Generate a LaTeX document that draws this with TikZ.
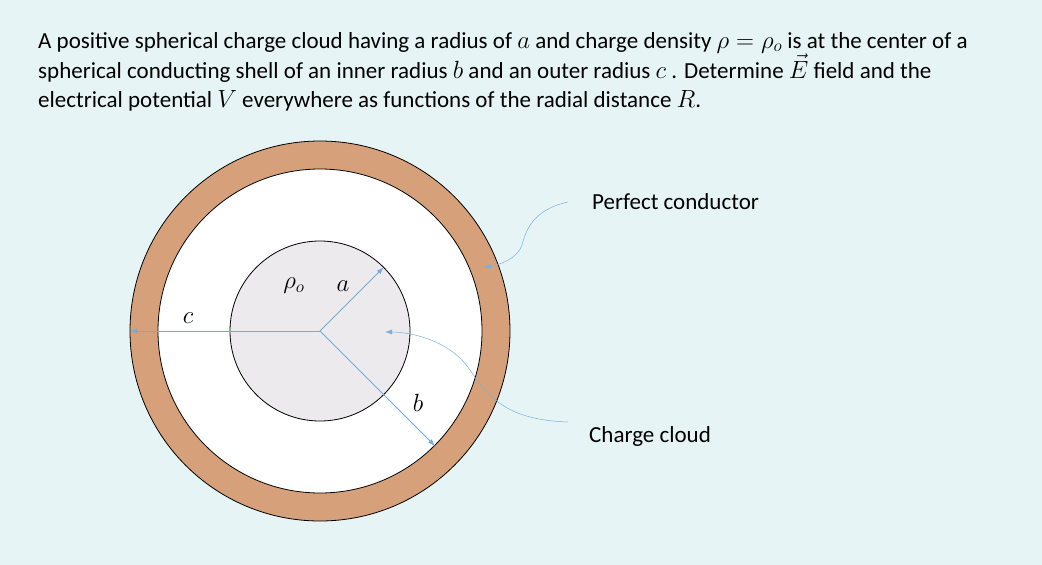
\documentclass[tikz,border=0pt]{standalone}
\usepackage{fontspec}
\setmainfont{Carlito}
\usetikzlibrary{arrows.meta}
\definecolor{bgc}{RGB}{230,244,246}
\definecolor{shell}{RGB}{214,161,122}
\definecolor{cloud}{RGB}{236,234,237}
\definecolor{ln}{RGB}{91,155,213}
\tikzset{lbl/.style={font=\fontsize{23}{27}\selectfont, anchor=west, inner sep=0},
 ml/.style={font=\fontsize{23}{27}\selectfont},
 tl/.style={font=\fontsize{23}{27}\selectfont, anchor=base west, inner sep=0},
 dim/.style={draw=ln!85, line width=0.8pt, -{Latex[length=7pt,width=5pt]}},
 lead/.style={draw=ln!80, line width=0.5pt, -{Latex[length=7pt,width=5pt]}}}
\begin{document}
\begin{tikzpicture}[x=1pt,y=-1pt]
\fill[bgc] (0,0) rectangle (1042,565);
\useasboundingbox (0,0) rectangle (1042,565);
\node[tl] (t1) at (38,48) {A positive spherical charge cloud having a radius of $a$ and charge density $\rho=\rho_o$ is at the center of a};
\node[tl] (t2) at (38,78) {spherical conducting shell of an inner radius $b$ and an outer radius $c$ . Determine $\vec{E}$ field and the};
\node[tl] (t3) at (38,107) {electrical potential $V$ everywhere as functions of the radial distance $R$.};
\coordinate (O) at (320,331);
\fill[shell, draw=black, line width=0.8pt] (O) circle (190);
\fill[white, draw=black, line width=0.8pt] (O) circle (162);
\fill[cloud, draw=black, line width=0.8pt] (O) circle (90);
\coordinate (ea) at (383.6,267.4);
\coordinate (eb) at (435,446);
\coordinate (ec) at (130,331);
\draw[dim] (O) -- (ea);
\draw[dim] (O) -- (eb);
\draw[dim] (O) -- (ec);
\node[ml] (la) at (343,286) {$a$};
\node[ml] (lr) at (294,286) {$\rho_o$};
\node[ml] (lb) at (418,403) {$b$};
\node[ml] (lc) at (188,318) {$c$};
\node[lbl] (pc) at (592,202) {Perfect conductor};
\node[lbl] (cc) at (589,436) {Charge cloud};
\coordinate (p1) at (568,202);
\coordinate (p2) at (484,267);
\draw[lead] (p1) .. controls (530,210) and (525,235) .. (522,245) .. controls (518,258) and (500,265) .. (p2);
\coordinate (q1) at (568,422);
\coordinate (q2) at (385,332);
\draw[lead] (q1) .. controls (510,420) and (490,400) .. (470,370) .. controls (450,340) and (410,332) .. (q2);
\end{tikzpicture}
\end{document}
